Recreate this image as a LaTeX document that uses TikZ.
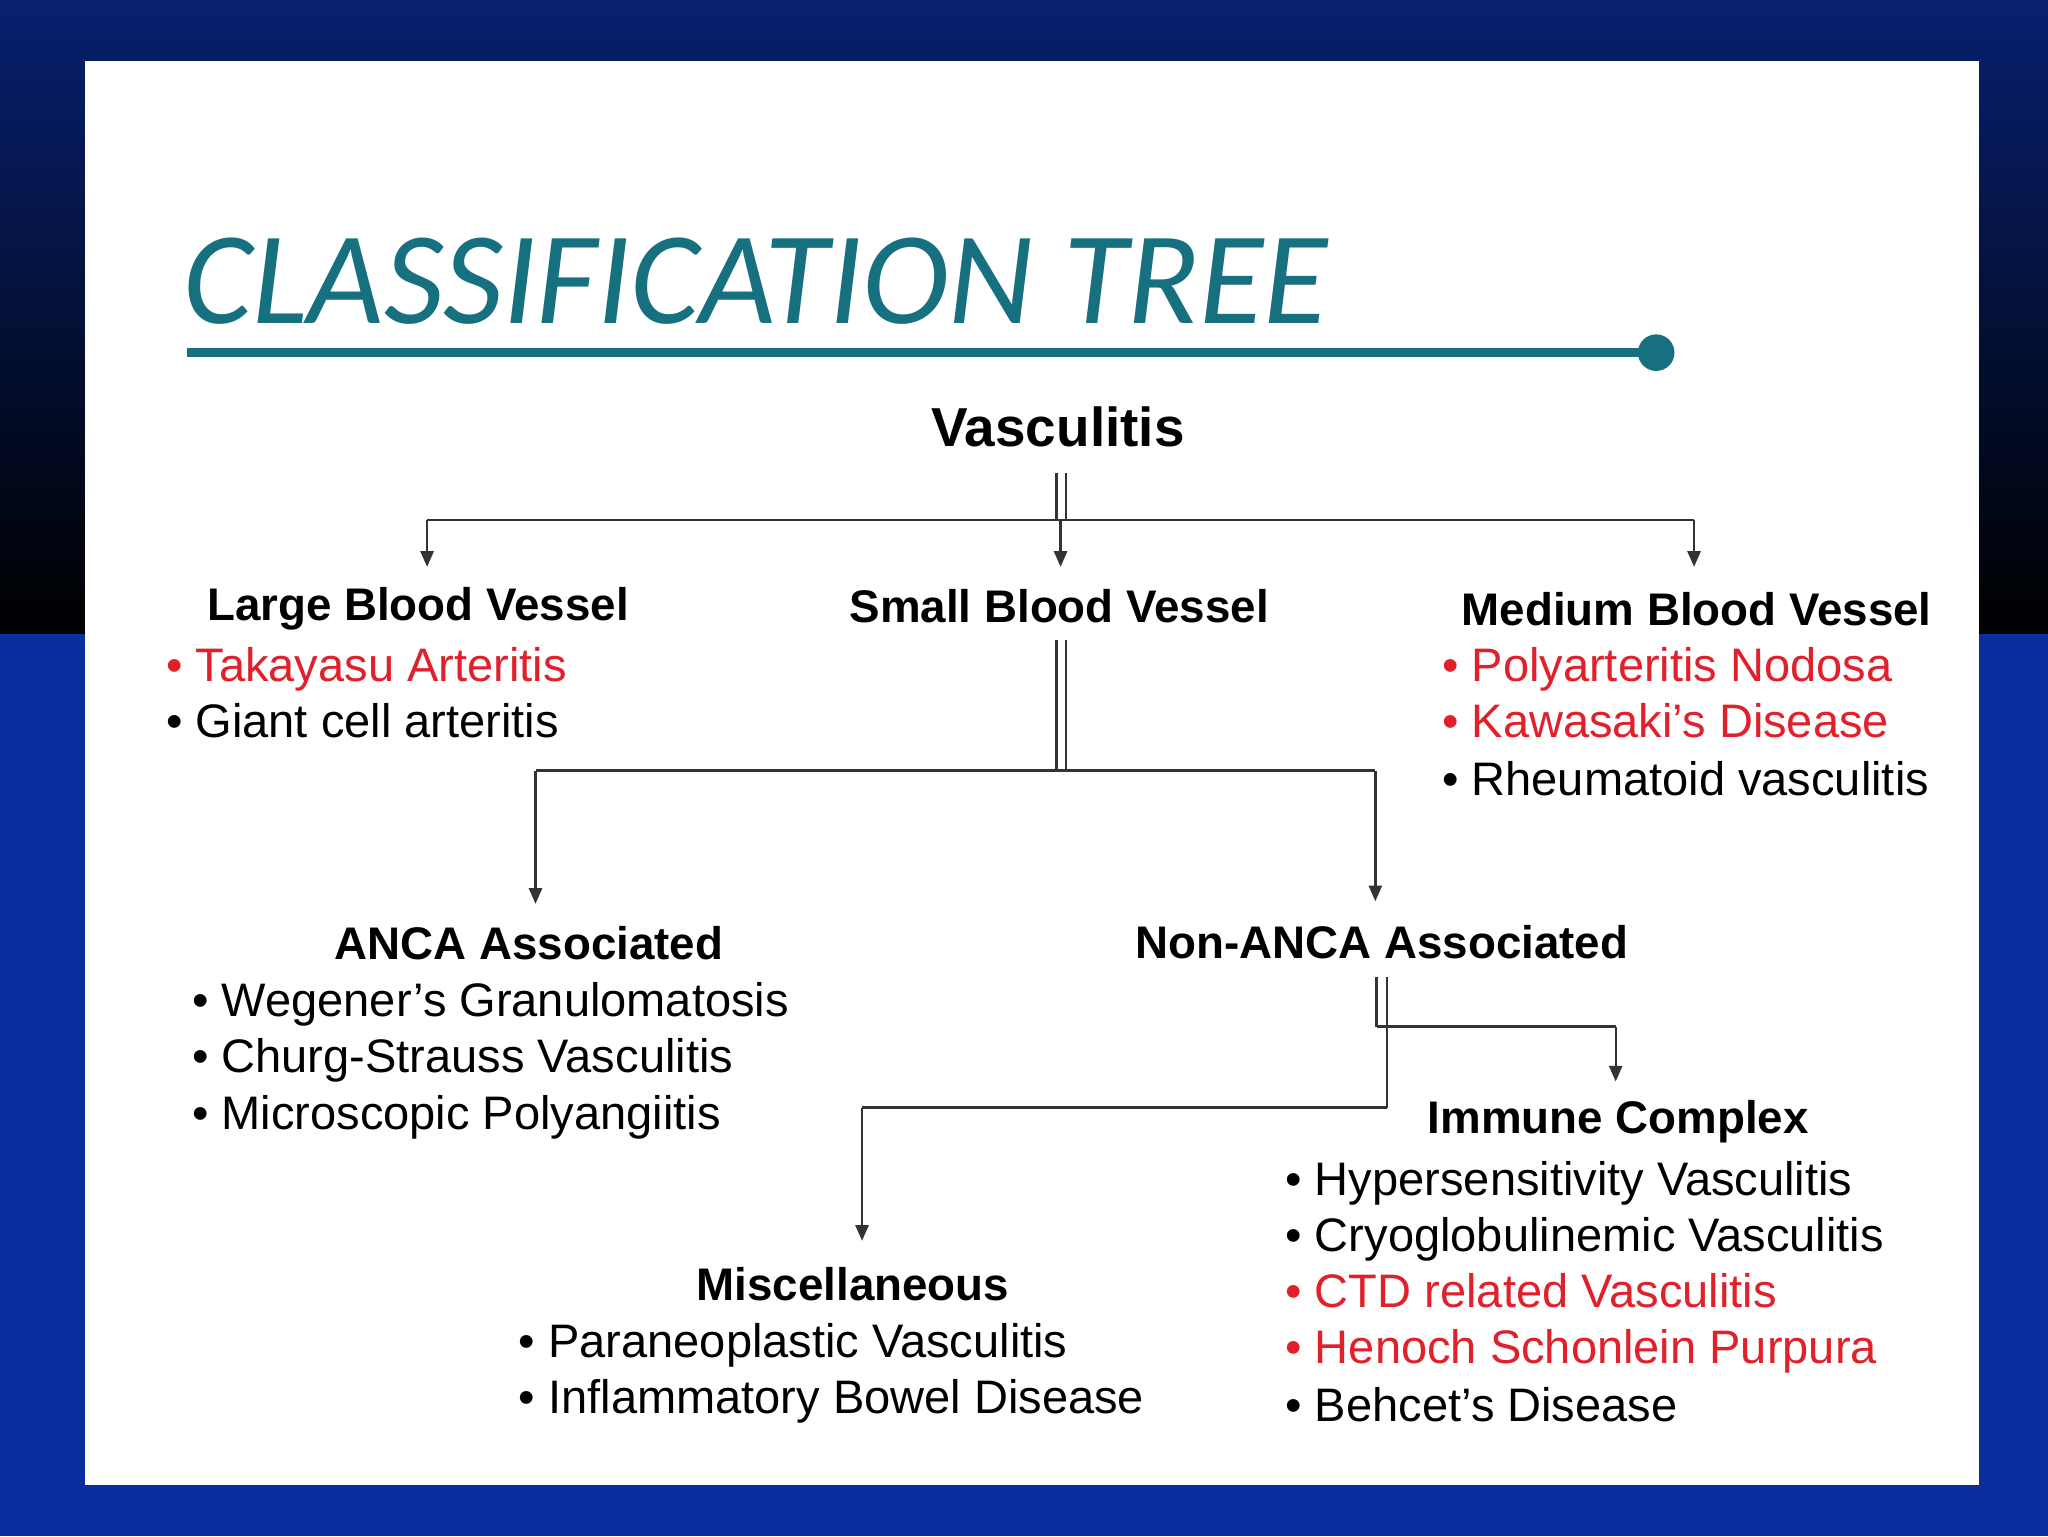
\documentclass[tikz,border=0pt]{standalone}
\usepackage{fontspec}
\setmainfont{Liberation Sans}
\newfontfamily\titlefont{Carlito}
\usetikzlibrary{arrows.meta}
\begin{document}
\definecolor{bgblue}{HTML}{0B2E9E}
\definecolor{teal}{HTML}{17707F}
\definecolor{redt}{HTML}{E0202A}
\begin{tikzpicture}[x=1pt,y=-1pt,
  head/.style={font=\fontsize{35}{40}\selectfont\bfseries},
  item/.style={anchor=west,font=\fontsize{36}{40}\selectfont,text height=25pt,text depth=7pt,inner sep=0pt,yshift=-3pt},
  red/.style={item,text=redt},
  ln/.style={line width=1.8pt,draw=black!80},
  arr/.style={ln,-{Triangle[length=12pt,width=10pt]}}]
\useasboundingbox (0,0) rectangle (1568,1176);
\fill[bgblue] (0,0) rectangle (1568,1176);
\shade[top color=bgblue!70!black, bottom color=black] (0,0) rectangle (1568,485);
\fill[white] (65,47) rectangle (1515,1137);
\node[anchor=west,text=teal,font=\fontsize{101}{105}\titlefont\itshape] (title) at (137,215) {CLASSIFICATION TREE};
\coordinate (l1) at (143,270);
\coordinate (l2) at (1268,270);
\draw[teal,line width=7pt] (l1) -- (l2);
\fill[teal] (l2) circle (14);

\node[font=\fontsize{42}{46}\selectfont\bfseries] (vas) at (810,327) {Vasculitis};
\node[head] (large) at (320,466) {Large Blood Vessel};
\node[head] (small) at (811,464) {Small Blood Vessel};
\node[head] (medium) at (1299,466) {Medium Blood Vessel};
\node[red] (l1t) at (127,510) {• Takayasu Arteritis};
\node[item] (l2t) at (127,553) {• Giant cell arteritis};
\node[red] (m1) at (1104,510) {• Polyarteritis Nodosa};
\node[red] (m2) at (1104,553) {• Kawasaki’s Disease};
\node[item] (m3) at (1104,597) {• Rheumatoid vasculitis};

\node[head] (anca) at (405,722) {ANCA Associated};
\node[item] (a1) at (147,766) {• Wegener’s Granulomatosis};
\node[item] (a2) at (147,809) {• Churg-Strauss Vasculitis};
\node[item] (a3) at (147,853) {• Microscopic Polyangiitis};
\node[head] (non) at (1058,721) {Non-ANCA Associated};

\node[head] (imm) at (1239,859) {Immune Complex};
\node[item] (i1) at (984,903) {• Hypersensitivity Vasculitis};
\node[item] (i2) at (984,946) {• Cryoglobulinemic Vasculitis};
\node[red] (i3) at (984,989) {• CTD related Vasculitis};
\node[red] (i4) at (984,1032) {• Henoch Schonlein Purpura};
\node[item] (i5) at (984,1076) {• Behcet’s Disease};

\node[head] (misc) at (653,983) {Miscellaneous};
\node[item] (x1) at (397,1027) {• Paraneoplastic Vasculitis};
\node[item] (x2) at (397,1070) {• Inflammatory Bowel Disease};

% connectors
\draw[ln] (809,362) -- (809,398);
\draw[ln] (816,362) -- (816,398);
\draw[ln] (327,398) -- (1297,398);
\draw[arr] (327,398) -- (327,434);
\draw[arr] (812,398) -- (812,434);
\draw[arr] (1297,398) -- (1297,434);

\draw[ln] (809,490) -- (809,590);
\draw[ln] (816,490) -- (816,590);
\draw[ln] (410,590) -- (1053,590);
\draw[arr] (410,590) -- (410,692);
\draw[arr] (1053,590) -- (1053,690);

\draw[ln] (1054,748) -- (1054,786);
\draw[ln] (1062,748) -- (1062,848);
\draw[ln] (1054,786) -- (1237,786);
\draw[arr] (1237,786) -- (1237,828);
\draw[ln] (660,848) -- (1062,848);
\draw[arr] (660,848) -- (660,950);
\end{tikzpicture}
\end{document}
